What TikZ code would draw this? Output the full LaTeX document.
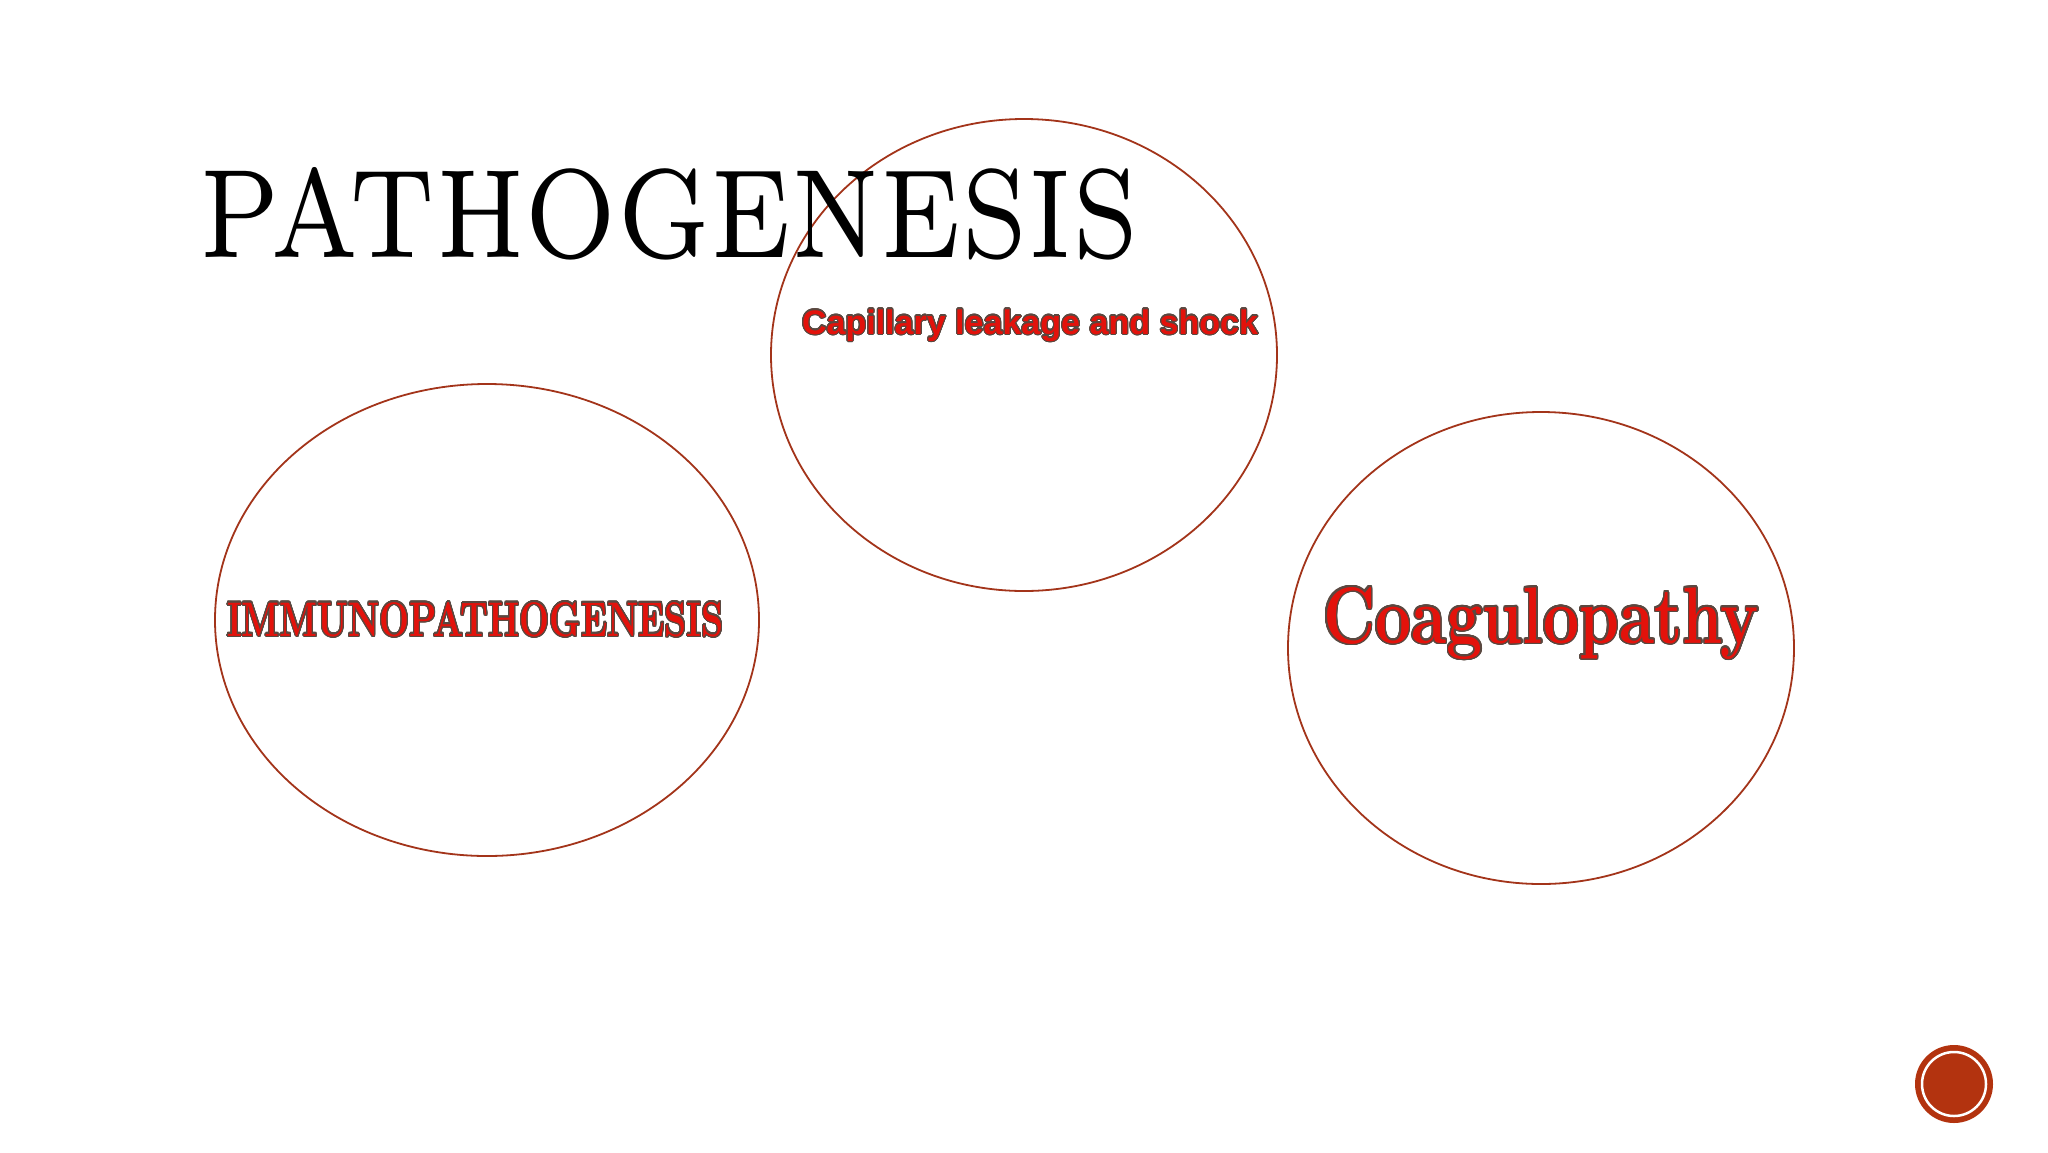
\documentclass[tikz,border=0pt]{standalone}
\usepackage{fontspec}
\usepackage{contour}
\usetikzlibrary{shapes.geometric}
\newfontfamily\arialbold{Liberation Sans Bold}
\definecolor{ringcol}{HTML}{A3341A}
\definecolor{txtred}{HTML}{E3120B}
\definecolor{txtline}{HTML}{5A4840}
\definecolor{dotcol}{HTML}{B3330F}
\contournumber{24}
\begin{document}
\begin{tikzpicture}[x=1pt,y=-1pt,
  bubble/.style={ellipse, draw=ringcol, line width=1.8pt, inner sep=0pt},
  lbl/.style={inner sep=0pt, outer sep=0pt, anchor=base west, text=txtred}]
\useasboundingbox[fill=white] (0,0) rectangle (2048,1152);

% bubbles
\node[bubble, minimum width=544pt, minimum height=472pt] (immuno) at (487,620) {};
\node[bubble, minimum width=506pt, minimum height=472pt] (capil) at (1024,355) {};
\node[bubble, minimum width=506pt, minimum height=472pt] (coag) at (1541,648) {};

% title
\node[inner sep=0pt, anchor=base west] (title) at (199,257)
  {\resizebox{940pt}{90pt}{\fontsize{6}{7}\selectfont PATHOGENESIS}};

% labels
\node[lbl] (capiltxt) at (802,334)
  {\resizebox{456pt}{!}{\fontsize{34}{34}\arialbold\contourlength{1.1pt}\contour{txtline}{Capillary leakage and shock}}};
\node[lbl] (immunotxt) at (227,636)
  {\resizebox{497pt}{34pt}{\fontsize{48}{48}\selectfont\bfseries\contourlength{1.4pt}\contour{txtline}{IMMUNOPATHOGENESIS}}};
\node[lbl] (coagtxt) at (1323,643)
  {\resizebox{436pt}{56pt}{\fontsize{70}{70}\selectfont\bfseries\contourlength{1.6pt}\contour{txtline}{Coagulopathy}}};

% page marker
\node[circle, fill=dotcol, minimum size=78pt, inner sep=0pt] (dot) at (1954,1084) {};
\node[circle, draw=white, line width=2.5pt, minimum size=64pt, inner sep=0pt] (dotring) at (dot.center) {};
\end{tikzpicture}
\end{document}
